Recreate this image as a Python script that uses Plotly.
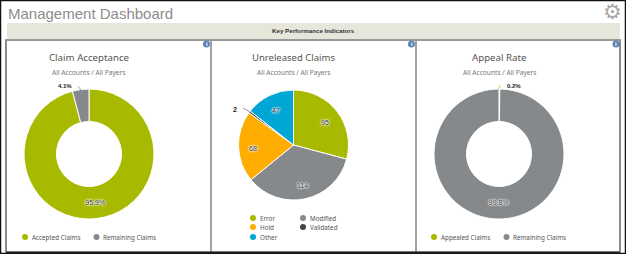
import plotly.graph_objects as go

W, H = 626, 254
OLIVE, GRAY, ORANGE, BLUE, DARK = "#A8BA00", "#85898B", "#FFAD00", "#00A7D4", "#454545"

page_title = "Management Dashboard"
band_title = "Key Performance Indicators"
subtitle = "All Accounts / All Payers"

claim_title = "Claim Acceptance"
claim_labels = ["Accepted Claims", "Remaining Claims"]
claim_values = [95.9, 4.1]

unreleased_title = "Unreleased Claims"
unreleased_labels = ["Error", "Modified", "Hold", "Validated", "Other"]
unreleased_values = [95, 114, 68, 2, 47]

appeal_title = "Appeal Rate"
appeal_labels = ["Appealed Claims", "Remaining Claims"]
appeal_values = [0.2, 99.8]


def px(x):
    return x / W


def py(y):
    return 1 - y / H


def rect(x0, y0, x1, y1, fill="rgba(0,0,0,0)", line=None, width=1):
    return dict(type="rect", xref="paper", yref="paper", x0=px(x0), x1=px(x1), y0=py(y1), y1=py(y0),
                fillcolor=fill, line=dict(color=line, width=width) if line else dict(width=0), layer="below")


def seg(x0, y0, x1, y1, color, width=1):
    return dict(type="line", xref="paper", yref="paper", x0=px(x0), x1=px(x1), y0=py(y0), y1=py(y1),
                line=dict(color=color, width=width))


def dot(cx, cy, color, r=3):
    return dict(type="circle", xref="paper", yref="paper", x0=px(cx - r), x1=px(cx + r), y0=py(cy + r), y1=py(cy - r),
                fillcolor=color, line=dict(width=0))


def note(x, y, text, size=6.3, color="#555555", family="Noto Sans", anchor="center", shadow=None):
    font = dict(size=size, color=color, family=family)
    if shadow:
        font["shadow"] = shadow
    return dict(xref="paper", yref="paper", x=px(x), y=py(y), text=text, showarrow=False, xanchor=anchor,
                yanchor="middle", font=font)


halo = "0 0 2px #fff, 0 0 2px #fff, 0 0 2px #fff, 0 0 3px #fff"
label_font = dict(size=7, color="#333333", family="Liberation Sans", shadow=halo)


def pie(labels, values, colors, texts, x0, x1, y0, y1, hole):
    return go.Pie(labels=labels, values=values, text=texts, textinfo="text", textposition="inside",
                  insidetextorientation="horizontal", insidetextfont=label_font,
                  marker=dict(colors=colors, line=dict(color="#ffffff", width=1)),
                  sort=False, direction="clockwise", rotation=0, hole=hole, showlegend=False,
                  domain=dict(x=[px(x0), px(x1)], y=[py(y1), py(y0)]))


fig = go.Figure()
fig.add_trace(pie(claim_labels, claim_values, [OLIVE, GRAY], [f"{claim_values[0]}%", ""], 24, 154, 89, 219, 0.5))
fig.add_trace(pie(unreleased_labels, unreleased_values, [OLIVE, GRAY, ORANGE, DARK, BLUE],
                  [""] * len(unreleased_values), 238, 349, 90, 200, 0))
fig.add_trace(pie(appeal_labels, appeal_values, [OLIVE, GRAY], ["", f"{appeal_values[1]}%"], 434, 564, 89, 219, 0.5))

shapes = [
    rect(0.5, 0.5, 625.5, 253.5, line="#111111", width=1.5),
    rect(7, 23, 620, 39, fill="#E6E6DB"),
    rect(6, 40, 620, 252, line="#666666", width=1.5),
    seg(211, 40, 211, 252, "#666666", 1.2),
    seg(416, 40, 416, 252, "#666666", 1.2),
    seg(6, 40, 620, 40, "#999999", 2),
    seg(6, 252.5, 620, 252.5, "#222222", 1.5),
    dot(206.5, 44, "#5B84B8", 3.5), dot(411.5, 44, "#5B84B8", 3.5), dot(616, 44, "#5B84B8", 3.5),
    # small-slice leader lines
    seg(78, 86, 81, 90, "#AAAAAA"),
    seg(243, 108, 250, 112, "#999999"),
    seg(500, 85, 498.5, 89, "#D8D070"),
    # legend markers
    dot(25, 237, OLIVE), dot(96.5, 237, GRAY),
    dot(253, 218, OLIVE), dot(303, 218, GRAY),
    dot(253, 227, ORANGE), dot(303, 227, DARK),
    dot(253, 237, BLUE),
    dot(434, 237, OLIVE), dot(506.5, 237, GRAY),
]

ann = [
    note(5.5, 13, page_title, size=15, color="#8C8C8C", family="Liberation Sans", anchor="left"),
    note(313, 30.5, f"<b>{band_title}</b>", size=6.2, color="#333333", family="Liberation Sans"),
    note(612.5, 12, "⚙", size=21, color="#A6A6A6", family="DejaVu Sans"),
    note(89, 57.5, claim_title, size=9.7),
    note(293, 57.5, unreleased_title, size=9.5),
    note(499, 57.5, appeal_title, size=9.7),
    note(89, 73, subtitle, size=6.6, color="#777777"),
    note(293, 73, subtitle, size=6.6, color="#777777"),
    note(499, 73, subtitle, size=6.6, color="#777777"),
    note(65, 86, f"<b>{claim_values[1]}%</b>", size=6, color="#222222", family="Liberation Sans"),
    note(235, 109, f"<b>{unreleased_values[3]}</b>", size=7, color="#222222", family="Liberation Sans"),
    note(514, 86, f"<b>{appeal_values[0]}%</b>", size=6, color="#222222", family="Liberation Sans"),
    note(206.5, 44, "<b>i</b>", size=6, color="#ffffff", family="Liberation Sans"),
    note(411.5, 44, "<b>i</b>", size=6, color="#ffffff", family="Liberation Sans"),
    note(616, 44, "<b>i</b>", size=6, color="#ffffff", family="Liberation Sans"),
    note(325, 122, str(unreleased_values[0]), size=7, color="#333333", family="Liberation Sans", shadow=halo),
    note(302, 185, str(unreleased_values[1]), size=7, color="#333333", family="Liberation Sans", shadow=halo),
    note(253, 148, str(unreleased_values[2]), size=7, color="#333333", family="Liberation Sans", shadow=halo),
    note(276, 110, str(unreleased_values[4]), size=7, color="#333333", family="Liberation Sans", shadow=halo),
    note(29.5, 237, claim_labels[0], anchor="left"),
    note(101, 237, claim_labels[1], anchor="left"),
    note(257.5, 218, unreleased_labels[0], anchor="left"),
    note(307.5, 218, unreleased_labels[1], anchor="left"),
    note(257.5, 227, unreleased_labels[2], anchor="left"),
    note(307.5, 227, unreleased_labels[3], anchor="left"),
    note(257.5, 237, unreleased_labels[4], anchor="left"),
    note(439, 237, appeal_labels[0], anchor="left"),
    note(511, 237, appeal_labels[1], anchor="left"),
]

fig.update_layout(width=W, height=H, margin=dict(l=0, r=0, t=0, b=0), paper_bgcolor="#ffffff",
                  shapes=shapes, annotations=ann)
fig.write_html("out.html", config=dict(displayModeBar=False),
               post_script="document.body.style.margin='0';document.body.style.overflow='hidden';")
